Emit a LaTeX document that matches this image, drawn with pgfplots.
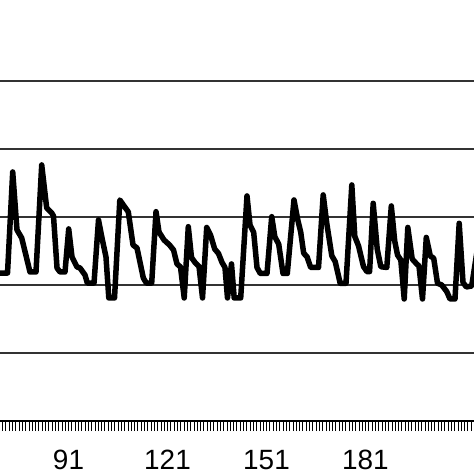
\documentclass[border=0pt]{standalone}
\usepackage{pgfplots}
\pgfplotsset{compat=1.18}
\usepackage{fontspec}
\setmainfont{Liberation Sans}
\begin{document}
\begin{tikzpicture}
\begin{axis}[
  name=ax, at={(0,0)}, anchor=south west,
  scale only axis, width=474bp, height=421bp,
  xmin=70.24, xmax=213.88, ymin=0, ymax=6.19,
  axis x line*=bottom, axis y line*=left,
  y axis line style={draw=none},
  x axis line style={line width=1.6bp, black, -},
  ytick={1,2,3,4,5}, yticklabels={}, ytick style={draw=none},
  ymajorgrids,
  grid style={line width=1.3bp, black!80},
  xtick={91,121,151,181},
  minor xtick={71,72,...,213},
  tick align=outside,
  major tick length=10bp, minor tick length=10bp,
  xtick style={line width=0.8bp, black},
  minor tick style={line width=0.8bp, black},
  xticklabel style={font=\fontsize{28}{30}\selectfont, inner sep=0pt, yshift=-19bp},
  /pgf/number format/assume math mode=true,
  clip=true,
]
\addplot[black, line width=5.5bp, line join=round, mark=none] table {
x y
70.24 2.176
72.52 2.176
74.09 3.662
75.39 2.809
76.82 2.691
79.33 2.191
81.15 2.191
82.88 3.765
84.39 3.132
85.91 3.059
86.45 3.015
87.52 2.250
88.42 2.191
89.94 2.191
91.06 2.824
92.06 2.412
93.58 2.265
94.48 2.250
96.00 2.147
96.70 2.029
98.73 2.029
100.09 2.956
101.15 2.691
102.36 2.412
103.21 1.809
104.94 1.809
106.55 3.250
107.82 3.162
109.12 3.074
110.55 2.588
111.76 2.544
113.67 2.103
114.58 2.029
116.21 2.029
117.52 3.078
118.42 2.779
119.94 2.662
121.61 2.588
122.82 2.515
123.88 2.309
124.94 2.265
126.06 1.809
127.30 2.857
128.27 2.404
129.33 2.331
130.55 2.272
131.61 1.809
132.88 2.846
134.03 2.735
135.30 2.529
136.45 2.463
137.52 2.331
138.42 2.257
139.18 1.809
140.39 2.309
141.21 1.809
143.18 1.809
145.09 3.309
146.00 2.882
147.12 2.772
148.12 2.257
149.12 2.169
151.15 2.169
152.58 3.004
153.52 2.710
154.70 2.600
156.00 2.169
157.30 2.169
159.33 3.250
160.48 2.956
161.36 2.779
162.27 2.466
163.27 2.416
164.39 2.257
166.76 2.257
168.18 3.324
169.27 2.904
170.79 2.429
171.82 2.343
173.33 2.025
175.09 2.025
176.85 3.471
177.76 2.712
178.88 2.576
180.39 2.271
181.45 2.196
182.24 2.196
183.33 3.201
184.55 2.529
185.64 2.269
187.45 2.257
188.82 3.162
189.85 2.647
190.70 2.441
191.70 2.368
192.73 1.794
193.82 2.846
195.15 2.382
196.52 2.309
197.21 2.279
198.27 1.794
199.42 2.699
200.64 2.426
201.67 2.393
202.82 2.025
204.09 2.000
205.61 1.904
206.61 1.794
208.12 1.794
209.39 2.907
210.55 2.037
211.55 1.971
213.18 1.985
215.09 2.588
};
\end{axis}
\pgfresetboundingbox
\useasboundingbox (0,-53bp) rectangle (474bp,421bp);
\end{tikzpicture}
\end{document}
